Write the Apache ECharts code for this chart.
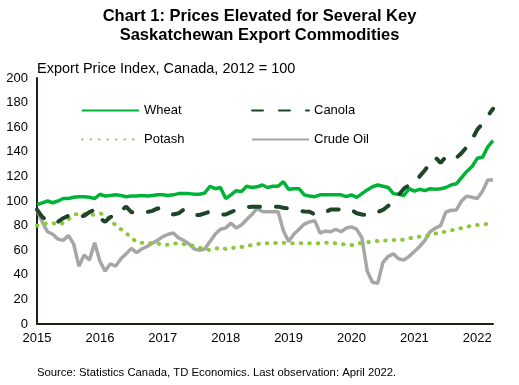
<!DOCTYPE html>
<html>
<head>
<meta charset="utf-8">
<script src="https://cdn.jsdelivr.net/npm/echarts@6/dist/echarts.min.js"></script>
<style>
html,body{margin:0;padding:0;background:#fff;}
#c{width:519px;height:385px;}
</style>
</head>
<body>
<div id="c"></div>
<script>
// Monthly, Jan 2015 .. Apr 2022 (88 months)
var months = [];
for (var y = 2015; y <= 2022; y++) {
  for (var m = 1; m <= 12; m++) {
    if (y === 2022 && m > 4) break;
    months.push(y + '-' + (m < 10 ? '0' + m : m));
  }
}
var yTicks = [0, 20, 40, 60, 80, 100, 120, 140, 160, 180, 200];

var wheat = [97,98.5,100,98.6,100,102,102,103,103.5,103.5,103,102,
  105.5,104,104.5,105,104.5,103.5,104,104,104.5,104,104.5,105,
  105,104.5,105,106,106,106,105.5,105.5,106.5,112,110,111,
  102,105,108.4,107.6,112,111,111.5,113,111,112,112,115.7,
  109.5,110,110,105,104,103.5,105,105,105,105,105,103.5,
  105,103,106,109,111.6,113,112,111,106,105.5,104.5,110,
  108,109.5,108.4,110,109.5,110,111,113,114,119,124,128,
  134.7,135.5,144,149];

var canola = [93,87,84,82,83,86,88,89,87,88,91,93,
  86,83,87,88,92,95.4,91,90,91,91,92,94,
  93,91,89,90,93,90,88.5,88.6,90,91.3,90,89,
  89,91,92.7,94,95,95.4,95.4,95.4,95,95,95.4,94.5,
  94,93,92,91.5,91.3,89,89,91,93,93,93,94,
  92.7,90,89,88.6,88.6,91,92.7,96,100,105,110,113,
  114.5,120,125,131,135.5,131,136,134,135,139,144,150,
  158,163,169,175];

var potash = [80,81,82,82,81,82,85,89,89.4,89.4,88.6,89,
  90,88.6,84,80.5,77,74,70,67,66,66,65.6,65.6,
  64.2,64.5,65,66,65,64.2,63.5,62,61,60,61,62.3,
  61,61.5,62.3,62.6,63.5,64.2,65,65.6,65.6,65.6,66,66,
  65.6,65.6,65.6,65.6,65.6,65.6,65.6,66,66,65.6,65,64.5,
  64.2,65,66,66.5,67,67.5,67.8,68,68.3,68.3,68.5,69.7,
  70.5,71,71.5,72.4,73.5,74.5,75,76,77,78,79,80,
  80.5,81,81.3,82];

var crudeOil = [92.7,83,75,73,69,68,72,65,47,56,52,66,
  51,43,49,47,53,57,61.5,58,61,63,65.6,68,
  71,73,74,70,68,65,61,60,61,67,73,77,
  78,82,78,80.5,85,89,94,91.5,91.3,91.3,91.3,76,
  67,73,77,81.3,83,84,74,75.5,75,77,75,78,
  79,77,70,43,34,33,50,55,57,53,52,55,
  59,63,68,75,78,80,91,92.5,92.7,100,104,103,
  102,108,117,117];

var FONT = '"Liberation Sans", Arial, sans-serif';

var legendCommon = {
  orient: 'vertical', top: 104, padding: 0,
  itemWidth: 57, itemHeight: 14, itemGap: 16,
  itemStyle: {opacity: 0, borderWidth: 0},
  textStyle: {fontFamily: FONT, fontSize: 13, color: '#000'},
  selectedMode: false
};

var chart = echarts.init(document.getElementById('c'), null, {renderer: 'canvas'});
chart.setOption({
  animation: false,
  backgroundColor: '#ffffff',
  title: [
    {
      text: 'Chart 1: Prices Elevated for Several Key\nSaskatchewan Export Commodities',
      left: 'center', top: 7, padding: 0,
      textStyle: {fontFamily: FONT, fontSize: 16.5, fontWeight: 'bold', color: '#000', lineHeight: 19}
    },
    {
      text: 'Export Price Index, Canada, 2012 = 100',
      left: 37, top: 61, padding: 0,
      textStyle: {fontFamily: FONT, fontSize: 14.5, fontWeight: 'normal', color: '#000'}
    },
    {
      text: 'Source: Statistics Canada, TD Economics. Last observation: April 2022.',
      left: 37, top: 367, padding: 0,
      textStyle: {fontFamily: FONT, fontSize: 11.3, fontWeight: 'normal', color: '#000'}
    }
  ],
  legend: [
    Object.assign({data: ['Wheat', 'Potash'], left: 81}, legendCommon),
    Object.assign({data: ['Canola', 'Crude Oil'], left: 251}, legendCommon)
  ],
  grid: {left: 37, right: 26, top: 78, bottom: 61, containLabel: false},
  xAxis: {
    type: 'category',
    data: months,
    boundaryGap: false,
    axisLine: {lineStyle: {color: '#1a2414', width: 2}},
    axisTick: {show: false},
    axisLabel: {
      interval: function (i) { return i % 12 === 0; },
      formatter: function (v) { return v.slice(0, 4); },
      fontFamily: FONT, fontSize: 13, color: '#000', margin: 8
    },
    splitLine: {show: false}
  },
  yAxis: {
    type: 'value',
    min: yTicks[0], max: yTicks[yTicks.length - 1], interval: 20,
    axisLine: {show: true, lineStyle: {color: '#1a2414', width: 2}},
    axisTick: {show: false},
    axisLabel: {fontFamily: FONT, fontSize: 13, color: '#000', margin: 9},
    splitLine: {show: false}
  },
  series: [
    {
      name: 'Wheat', type: 'line', data: wheat, symbol: 'none', z: 4,
      lineStyle: {color: '#00B336', width: 3.5},
      itemStyle: {color: '#00B336'}
    },
    {
      name: 'Canola', type: 'line', data: canola, symbol: 'none', z: 5,
      lineStyle: {color: '#1D4528', width: 4, type: [11, 16], cap: 'round'},
      itemStyle: {color: '#1D4528'}
    },
    {
      name: 'Potash', type: 'line', data: potash, symbol: 'none', z: 3,
      lineStyle: {color: '#8CC83C', width: 4, type: [0.5, 8], cap: 'round'},
      itemStyle: {color: '#8CC83C'}
    },
    {
      name: 'Crude Oil', type: 'line', data: crudeOil, symbol: 'none', z: 2,
      lineStyle: {color: '#A6A6A6', width: 3.5},
      itemStyle: {color: '#A6A6A6'}
    }
  ]
});
</script>
</body>
</html>
